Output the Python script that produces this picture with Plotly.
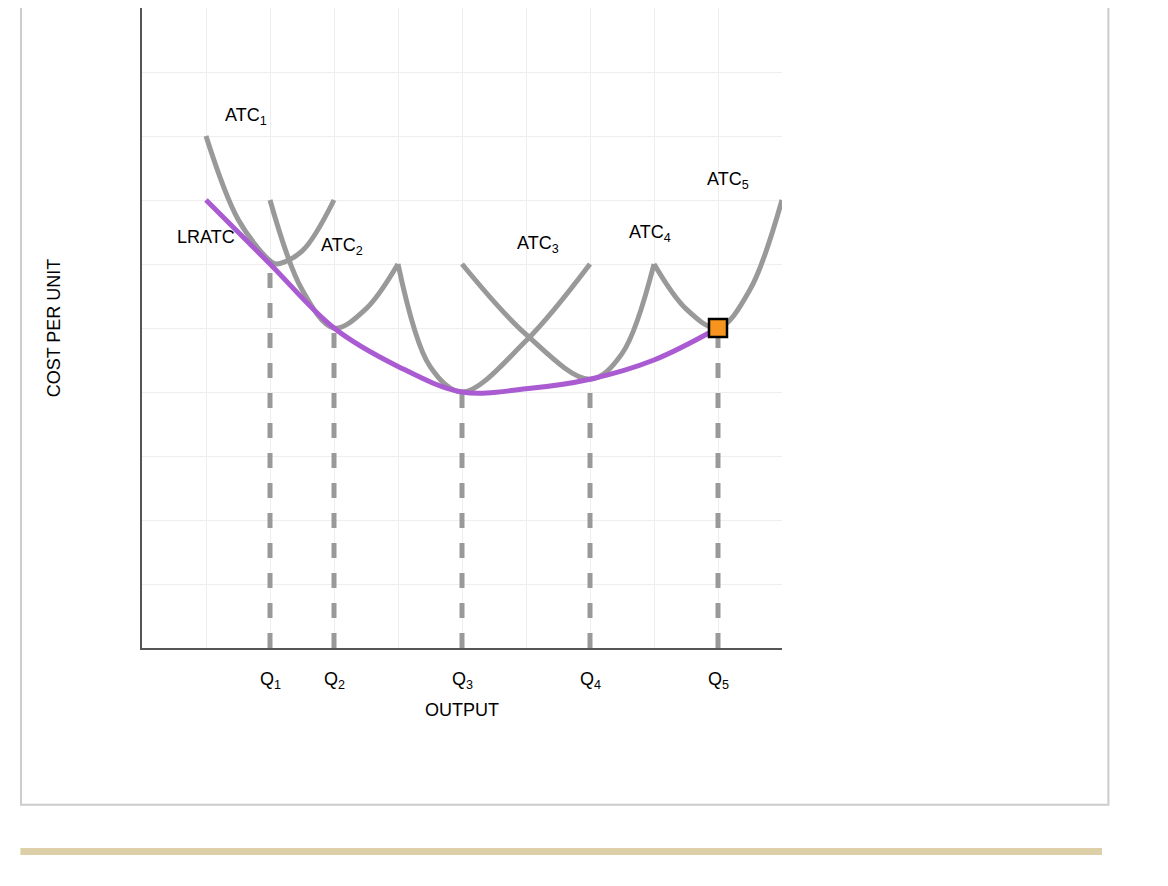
import plotly.graph_objects as go

atc1_x = [1, 1.5, 2, 2.1, 2.5, 3]
atc1_y = [8, 6.7, 6.05, 6.0, 6.2, 7]
atc2_x = [2, 2.5, 3, 3.5, 4]
atc2_y = [7, 5.6, 5.0, 5.3, 6]
atc3_x = [4, 4.5, 5, 6, 7]
atc3_y = [6, 4.4, 4.0, 4.8, 6]
atc4_x = [5, 6, 7, 7.5, 8]
atc4_y = [6, 4.9, 4.2, 4.6, 6]
atc5_x = [8, 8.5, 9, 9.5, 10]
atc5_y = [6, 5.3, 5.0, 5.6, 7]
lratc_x = [1, 2, 3, 4, 5, 6, 7, 8, 9]
lratc_y = [7, 6, 5, 4.4, 4.0, 4.05, 4.2, 4.5, 5]
q_x = [2, 3, 5, 7, 9]
q_y = [6, 5, 4, 4.2, 5]
q_labels = ["Q<sub>1</sub>", "Q<sub>2</sub>", "Q<sub>3</sub>", "Q<sub>4</sub>", "Q<sub>5</sub>"]
lab_text = ["ATC<sub>1</sub>", "LRATC", "ATC<sub>2</sub>", "ATC<sub>3</sub>", "ATC<sub>4</sub>", "ATC<sub>5</sub>"]
lab_x = [1.63, 1.0, 3.13, 6.19, 7.94, 9.16]
lab_y = [8.3, 6.42, 6.27, 6.3, 6.48, 7.3]

fig = go.Figure()
for qx, qy in zip(q_x, q_y):
    fig.add_trace(go.Scatter(x=[qx, qx], y=[0, qy], mode="lines",
                             line=dict(color="#999999", width=5, dash="dash"), hoverinfo="skip"))
for xs, ys in [(atc1_x, atc1_y), (atc2_x, atc2_y), (atc3_x, atc3_y), (atc4_x, atc4_y), (atc5_x, atc5_y)]:
    fig.add_trace(go.Scatter(x=xs, y=ys, mode="lines", line=dict(color="#999999", width=5, shape="spline")))
fig.add_trace(go.Scatter(x=lratc_x, y=lratc_y, mode="lines",
                         line=dict(color="#aa5bd1", width=5, shape="spline")))
fig.add_trace(go.Scatter(x=[q_x[-1]], y=[q_y[-1]], mode="markers",
                         marker=dict(symbol="square", size=18, color="#f7941d", line=dict(color="black", width=2.5))))
for t, x, y in zip(lab_text, lab_x, lab_y):
    fig.add_annotation(x=x, y=y, text=t, showarrow=False, font=dict(size=18, color="black"))
for t, x in zip(q_labels, q_x):
    fig.add_annotation(x=x, xref="x", y=-0.03, yref="paper", yanchor="top", text=t,
                       showarrow=False, font=dict(size=18, color="black"))

fig.add_shape(type="rect", xref="paper", yref="paper", x0=-0.189, x1=1.51, y0=-0.245, y1=1.04,
              line=dict(color="#cccccc", width=2), fillcolor="rgba(0,0,0,0)", layer="below")
fig.add_shape(type="rect", xref="paper", yref="paper", x0=-0.19, x1=1.5, y0=-0.3125, y1=-0.3235,
              line=dict(width=0), fillcolor="#ddd0a8")

fig.update_layout(
    width=1168, height=886, showlegend=False, plot_bgcolor="white", paper_bgcolor="white",
    margin=dict(l=134, r=394, t=0, b=246),
    font=dict(family="Liberation Sans, Arial", size=18, color="black"),
    xaxis=dict(range=[0, 10], dtick=1, showticklabels=False, showgrid=True, gridcolor="#eeeeee",
               zeroline=False, showline=True, linecolor="#555555", linewidth=1.5,
               title=dict(text="OUTPUT", standoff=55, font=dict(size=18))),
    yaxis=dict(range=[0, 10], dtick=1, showticklabels=False, showgrid=True, gridcolor="#eeeeee",
               zeroline=False, showline=True, linecolor="#555555", linewidth=1.5,
               title=dict(text="COST PER UNIT", standoff=75, font=dict(size=18))),
)
fig.write_html("out.html")
